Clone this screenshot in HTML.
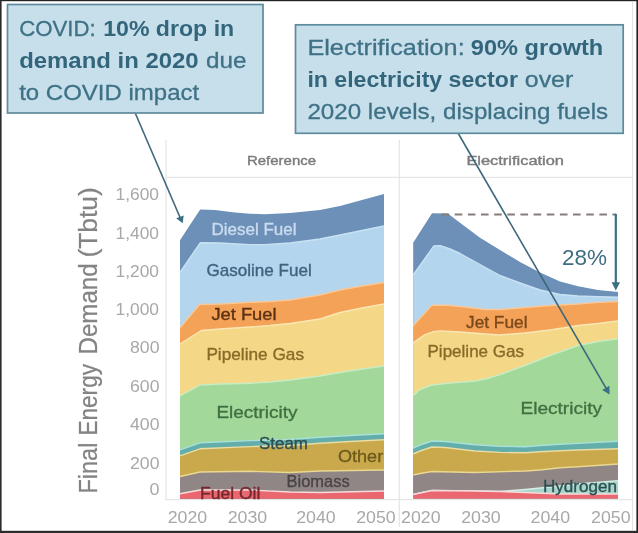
<!DOCTYPE html>
<html lang="en">
<head>
<meta charset="utf-8">
<title>Final Energy Demand</title>
<style>
  html, body { margin:0; padding:0; background:#ffffff; }
  body { width:638px; height:533px; overflow:hidden; }
  svg { display:block; filter: blur(0.4px); }
  .lbl { font-family:"Liberation Sans", sans-serif; }
  .tick { font-family:"Liberation Sans", sans-serif; font-size:16px; fill:#a8a8a8; }
  .hdr { font-family:"Liberation Sans", sans-serif; font-size:13px; fill:#7c7c7c; stroke:#7c7c7c; stroke-width:0.4px; font-weight:normal; }
  .note { font-family:"Liberation Sans", sans-serif; font-size:22.5px; fill:#3f7186; stroke:#3f7186; stroke-width:0.3px; }
  .note .b { font-weight:bold; fill:#33667c; stroke:none; }
  .area { font-family:"Liberation Sans", sans-serif; font-size:17px; }
</style>
</head>
<body>
<svg width="638" height="533" viewBox="0 0 638 533">
  <!-- page background + dark frame -->
  <rect x="0" y="0" width="638" height="533" fill="#ffffff"/>
  <rect x="0" y="0" width="638" height="1.2" fill="#222"/>
  <rect x="0" y="0" width="1.6" height="533" fill="#2b2b2b"/>
  <rect x="636.4" y="0" width="1.6" height="533" fill="#222"/>
  <rect x="0" y="530.8" width="638" height="2.2" fill="#2b2b2b"/>
  <rect x="632" y="2" width="1" height="528" fill="#e4e4e4"/>

  <!-- panel frame lines -->
  <g stroke="#e6e6e6" stroke-width="1.3" fill="none">
    <line x1="166" y1="140" x2="166" y2="500"/>
    <line x1="399.3" y1="140" x2="399.3" y2="527"/>
    <line x1="165.5" y1="177.3" x2="632" y2="177.3"/>
    <line x1="165.5" y1="499.6" x2="632" y2="499.6"/>
  </g>

  <!-- panel headers -->
  <text class="hdr" x="247" y="164.5" textLength="69" lengthAdjust="spacingAndGlyphs">Reference</text>
  <text class="hdr" x="466.4" y="164.5" textLength="97.6" lengthAdjust="spacingAndGlyphs">Electrification</text>

  <!-- y axis title -->
  <g class="lbl" font-size="25" fill="#848484" stroke="#848484" stroke-width="0.25">
    <text transform="translate(96.6,493.6) rotate(-90)" textLength="51" lengthAdjust="spacingAndGlyphs">Final</text>
    <text transform="translate(96.6,435.6) rotate(-90)" textLength="71.6" lengthAdjust="spacingAndGlyphs">Energy</text>
    <text transform="translate(96.6,354.4) rotate(-90)" textLength="91" lengthAdjust="spacingAndGlyphs">Demand</text>
    <text transform="translate(96.6,257.6) rotate(-90)" textLength="70.4" lengthAdjust="spacingAndGlyphs">(Tbtu)</text>
  </g>

  <!-- y tick labels -->
  <g class="tick" lengthAdjust="spacingAndGlyphs">
    <text x="115.5" y="199.7" textLength="43.5" lengthAdjust="spacingAndGlyphs">1,600</text>
    <text x="115.5" y="238.7" textLength="43.5" lengthAdjust="spacingAndGlyphs">1,400</text>
    <text x="115.5" y="277.2" textLength="43.5" lengthAdjust="spacingAndGlyphs">1,200</text>
    <text x="115.5" y="315.3" textLength="43.5" lengthAdjust="spacingAndGlyphs">1,000</text>
    <text x="130" y="353" textLength="29.5" lengthAdjust="spacingAndGlyphs">800</text>
    <text x="130" y="391.5" textLength="29.5" lengthAdjust="spacingAndGlyphs">600</text>
    <text x="130" y="430.3" textLength="29.5" lengthAdjust="spacingAndGlyphs">400</text>
    <text x="130" y="469.2" textLength="29.5" lengthAdjust="spacingAndGlyphs">200</text>
    <text x="149.5" y="494.5" textLength="10" lengthAdjust="spacingAndGlyphs">0</text>
  </g>

  <!-- x tick labels -->
  <g class="tick">
    <text x="167.7" y="522.8" textLength="39.5" lengthAdjust="spacingAndGlyphs">2020</text>
    <text x="227.7" y="522.8" textLength="39.5" lengthAdjust="spacingAndGlyphs">2030</text>
    <text x="296.2" y="522.8" textLength="39.5" lengthAdjust="spacingAndGlyphs">2040</text>
    <text x="356.2" y="522.8" textLength="39.5" lengthAdjust="spacingAndGlyphs">2050</text>
    <text x="401" y="522.8" textLength="39.5" lengthAdjust="spacingAndGlyphs">2020</text>
    <text x="461.2" y="522.8" textLength="39.5" lengthAdjust="spacingAndGlyphs">2030</text>
    <text x="530.6" y="522.8" textLength="39.5" lengthAdjust="spacingAndGlyphs">2040</text>
    <text x="591" y="522.8" textLength="39.5" lengthAdjust="spacingAndGlyphs">2050</text>
  </g>

  <!-- LEFT stacked areas -->
  <g>
<polygon points="180.0,240.3 186.5,230.2 200.2,209.4 215.0,210.0 235.0,212.5 250.0,213.8 265.0,214.2 290.0,213.0 305.0,211.5 320.0,210.0 340.0,206.0 362.0,200.0 384.0,194.0 384.0,498.8 180.0,498.8" fill="#6c90b8"/>
<polygon points="180.0,272.5 200.2,242.8 220.0,243.0 250.0,244.6 265.0,244.6 290.0,243.0 320.0,239.0 340.0,235.0 362.0,230.5 384.0,226.0 384.0,498.8 180.0,498.8" fill="#b3d5ee"/>
<polyline points="180.0,272.5 200.2,242.8 220.0,243.0 250.0,244.6 265.0,244.6 290.0,243.0 320.0,239.0 340.0,235.0 362.0,230.5 384.0,226.0" fill="none" stroke="#c9e2f3" stroke-width="1.4" stroke-linejoin="round"/>
<polygon points="180.0,327.7 199.6,304.5 220.0,304.0 250.0,302.3 270.0,301.5 290.0,300.0 320.0,295.0 340.0,290.0 362.0,286.0 384.0,282.5 384.0,498.8 180.0,498.8" fill="#f4a257"/>
<polyline points="180.0,327.7 199.6,304.5 220.0,304.0 250.0,302.3 270.0,301.5 290.0,300.0 320.0,295.0 340.0,290.0 362.0,286.0 384.0,282.5" fill="none" stroke="#f9c898" stroke-width="1.4" stroke-linejoin="round"/>
<polygon points="180.0,344.0 201.4,330.5 220.0,329.0 250.0,327.0 270.0,325.5 290.0,323.5 320.0,319.0 340.0,312.5 362.0,308.0 384.0,304.0 384.0,498.8 180.0,498.8" fill="#f4d888"/>
<polyline points="180.0,344.0 201.4,330.5 220.0,329.0 250.0,327.0 270.0,325.5 290.0,323.5 320.0,319.0 340.0,312.5 362.0,308.0 384.0,304.0" fill="none" stroke="#f9e8b4" stroke-width="1.4" stroke-linejoin="round"/>
<polygon points="180.0,395.8 200.2,385.0 220.0,384.0 250.0,383.2 270.0,382.0 290.0,380.0 320.0,376.0 340.0,372.5 362.0,369.0 384.0,366.0 384.0,498.8 180.0,498.8" fill="#a2d99b"/>
<polyline points="180.0,395.8 200.2,385.0 220.0,384.0 250.0,383.2 270.0,382.0 290.0,380.0 320.0,376.0 340.0,372.5 362.0,369.0 384.0,366.0" fill="none" stroke="#c9ecc2" stroke-width="1.4" stroke-linejoin="round"/>
<polygon points="180.0,449.8 200.0,442.8 250.0,440.6 290.0,439.5 320.0,437.2 350.0,435.5 384.0,433.8 384.0,498.8 180.0,498.8" fill="#63aeab"/>
<polyline points="180.0,449.8 200.0,442.8 250.0,440.6 290.0,439.5 320.0,437.2 350.0,435.5 384.0,433.8" fill="none" stroke="#a9e0d9" stroke-width="1.4" stroke-linejoin="round"/>
<polygon points="180.0,455.8 200.0,448.8 250.0,446.6 290.0,445.5 320.0,443.2 350.0,441.5 384.0,439.8 384.0,498.8 180.0,498.8" fill="#c9a94c"/>
<polyline points="180.0,455.8 200.0,448.8 250.0,446.6 290.0,445.5 320.0,443.2 350.0,441.5 384.0,439.8" fill="none" stroke="#e9dca4" stroke-width="1.4" stroke-linejoin="round"/>
<polygon points="180.0,476.5 200.0,472.0 250.0,471.3 290.0,472.5 320.0,471.0 384.0,470.0 384.0,498.8 180.0,498.8" fill="#918686"/>
<polyline points="180.0,476.5 200.0,472.0 250.0,471.3 290.0,472.5 320.0,471.0 384.0,470.0" fill="none" stroke="#ead891" stroke-width="1.4" stroke-linejoin="round"/>
<polygon points="180.0,493.8 200.0,490.0 250.0,490.0 290.0,492.0 320.0,492.5 384.0,491.0 384.0,498.8 180.0,498.8" fill="#ea6770"/>
<polyline points="180.0,493.8 200.0,490.0 250.0,490.0 290.0,492.0 320.0,492.5 384.0,491.0" fill="none" stroke="#f5dcdb" stroke-width="1.4" stroke-linejoin="round"/>
  </g>
  <!-- RIGHT stacked areas -->
  <g>
<polygon points="413.2,242.8 432.0,213.2 447.8,213.5 460.0,222.7 480.0,237.7 500.0,250.0 520.0,262.0 540.0,272.5 560.0,281.5 578.0,286.3 598.0,290.0 618.0,292.0 618.0,498.8 413.2,498.8" fill="#6c90b8"/>
<polygon points="413.2,275.0 433.9,245.9 441.0,245.8 450.0,249.0 460.0,253.5 480.0,264.5 500.0,275.5 520.0,283.0 540.0,290.0 560.0,294.5 578.0,296.0 598.0,296.6 618.0,297.3 618.0,498.8 413.2,498.8" fill="#b3d5ee"/>
<polyline points="413.2,275.0 433.9,245.9 441.0,245.8 450.0,249.0 460.0,253.5 480.0,264.5 500.0,275.5 520.0,283.0 540.0,290.0 560.0,294.5 578.0,296.0 598.0,296.6 618.0,297.3" fill="none" stroke="#c9e2f3" stroke-width="1.4" stroke-linejoin="round"/>
<polygon points="413.2,325.8 432.0,305.1 447.8,305.3 465.0,307.0 485.0,309.5 500.0,309.5 525.0,307.5 550.0,305.5 578.0,304.0 598.0,302.4 618.0,301.5 618.0,498.8 413.2,498.8" fill="#f4a257"/>
<polyline points="413.2,325.8 432.0,305.1 447.8,305.3 465.0,307.0 485.0,309.5 500.0,309.5 525.0,307.5 550.0,305.5 578.0,304.0 598.0,302.4 618.0,301.5" fill="none" stroke="#f9c898" stroke-width="1.4" stroke-linejoin="round"/>
<polygon points="413.2,342.8 425.0,334.7 433.0,331.8 440.0,330.9 460.0,332.0 485.0,334.0 500.0,335.0 525.0,333.0 550.0,330.0 578.0,325.5 598.0,323.5 618.0,321.0 618.0,498.8 413.2,498.8" fill="#f4d888"/>
<polyline points="413.2,342.8 425.0,334.7 433.0,331.8 440.0,330.9 460.0,332.0 485.0,334.0 500.0,335.0 525.0,333.0 550.0,330.0 578.0,325.5 598.0,323.5 618.0,321.0" fill="none" stroke="#f9e8b4" stroke-width="1.4" stroke-linejoin="round"/>
<polygon points="413.2,395.5 420.0,389.5 432.0,385.0 450.0,383.0 475.0,381.0 487.0,378.5 500.0,374.5 525.0,365.5 550.0,355.5 578.0,345.5 598.0,341.5 618.0,338.8 618.0,498.8 413.2,498.8" fill="#a2d99b"/>
<polyline points="413.2,395.5 420.0,389.5 432.0,385.0 450.0,383.0 475.0,381.0 487.0,378.5 500.0,374.5 525.0,365.5 550.0,355.5 578.0,345.5 598.0,341.5 618.0,338.8" fill="none" stroke="#c9ecc2" stroke-width="1.4" stroke-linejoin="round"/>
<polygon points="413.2,448.0 420.0,445.0 432.0,441.0 445.0,441.5 475.0,444.8 500.0,446.3 525.0,446.8 540.0,445.5 560.0,444.3 578.0,443.4 618.0,441.2 618.0,498.8 413.2,498.8" fill="#63aeab"/>
<polyline points="413.2,448.0 420.0,445.0 432.0,441.0 445.0,441.5 475.0,444.8 500.0,446.3 525.0,446.8 540.0,445.5 560.0,444.3 578.0,443.4 618.0,441.2" fill="none" stroke="#a9e0d9" stroke-width="1.4" stroke-linejoin="round"/>
<polygon points="413.2,454.0 420.0,451.0 432.0,447.0 445.0,447.5 475.0,451.0 500.0,452.4 525.0,452.8 540.0,451.7 560.0,450.7 578.0,450.0 618.0,448.7 618.0,498.8 413.2,498.8" fill="#c9a94c"/>
<polyline points="413.2,454.0 420.0,451.0 432.0,447.0 445.0,447.5 475.0,451.0 500.0,452.4 525.0,452.8 540.0,451.7 560.0,450.7 578.0,450.0 618.0,448.7" fill="none" stroke="#e9dca4" stroke-width="1.4" stroke-linejoin="round"/>
<polygon points="413.2,475.0 420.0,473.5 432.0,471.5 475.0,472.5 525.0,471.0 540.0,470.0 560.0,467.8 578.0,466.8 618.0,464.0 618.0,498.8 413.2,498.8" fill="#918686"/>
<polyline points="413.2,475.0 420.0,473.5 432.0,471.5 475.0,472.5 525.0,471.0 540.0,470.0 560.0,467.8 578.0,466.8 618.0,464.0" fill="none" stroke="#ead891" stroke-width="1.4" stroke-linejoin="round"/>
<polygon points="413.2,494.5 420.0,493.0 432.0,490.5 475.0,491.0 500.0,491.5 525.0,489.5 540.0,488.0 560.0,486.0 578.0,484.0 618.0,480.6 618.0,498.8 413.2,498.8" fill="#a9d6cb"/>
<polyline points="413.2,494.5 420.0,493.0 432.0,490.5 475.0,491.0 500.0,491.5 525.0,489.5 540.0,488.0 560.0,486.0 578.0,484.0 618.0,480.6" fill="none" stroke="#d6ece6" stroke-width="1.4" stroke-linejoin="round"/>
<polygon points="413.2,494.5 420.0,493.0 432.0,490.5 475.0,491.0 500.0,491.5 525.0,492.5 560.0,494.0 618.0,494.0 618.0,498.8 413.2,498.8" fill="#ea6770"/>
<polyline points="413.2,494.5 420.0,493.0 432.0,490.5 475.0,491.0 500.0,491.5 525.0,492.5 560.0,494.0 618.0,494.0" fill="none" stroke="#f5dcdb" stroke-width="1.4" stroke-linejoin="round"/>
  </g>

  <!-- area labels : left -->
  <g class="area">
    <text x="211.4" y="235.2" textLength="85.2" lengthAdjust="spacingAndGlyphs" fill="#ccdcef" stroke="#ccdcef" stroke-width="0.35">Diesel Fuel</text>
    <text x="206.4" y="276" textLength="105.3" lengthAdjust="spacingAndGlyphs" fill="#42617e" stroke="#42617e" stroke-width="0.35">Gasoline Fuel</text>
    <text x="211.4" y="320" textLength="65.2" lengthAdjust="spacingAndGlyphs" fill="#5a3114" stroke="#5a3114" stroke-width="0.35">Jet Fuel</text>
    <text x="206.4" y="360.2" textLength="97.6" lengthAdjust="spacingAndGlyphs" fill="#8a6a28" stroke="#8a6a28" stroke-width="0.35">Pipeline Gas</text>
    <text x="216.4" y="417.5" textLength="81" lengthAdjust="spacingAndGlyphs" fill="#3f7040" stroke="#3f7040" stroke-width="0.35">Electricity</text>
    <text x="259" y="449" textLength="49" lengthAdjust="spacingAndGlyphs" fill="#2f4f50" stroke="#2f4f50" stroke-width="0.35">Steam</text>
    <text x="338" y="462" textLength="45.2" lengthAdjust="spacingAndGlyphs" fill="#6d5a1c" stroke="#6d5a1c" stroke-width="0.35">Other</text>
    <text x="286.6" y="486.5" textLength="63" lengthAdjust="spacingAndGlyphs" fill="#4a4444" stroke="#4a4444" stroke-width="0.35">Biomass</text>
    <text x="200" y="499" textLength="60.3" lengthAdjust="spacingAndGlyphs" fill="#74282f" stroke="#74282f" stroke-width="0.35">Fuel Oil</text>
  </g>
  <!-- area labels : right -->
  <g class="area">
    <text x="466" y="328" textLength="61.5" lengthAdjust="spacingAndGlyphs" fill="#7a4a1a" stroke="#7a4a1a" stroke-width="0.35">Jet Fuel</text>
    <text x="427.5" y="357.2" textLength="96.5" lengthAdjust="spacingAndGlyphs" fill="#8a6a28" stroke="#8a6a28" stroke-width="0.35">Pipeline Gas</text>
    <text x="520.5" y="414" textLength="81.5" lengthAdjust="spacingAndGlyphs" fill="#3f7040" stroke="#3f7040" stroke-width="0.35">Electricity</text>
    <text x="543" y="492" textLength="74" lengthAdjust="spacingAndGlyphs" fill="#2c5152" stroke="#2c5152" stroke-width="0.35">Hydrogen</text>
  </g>

  <!-- dashed reference line + 28% arrow -->
  <line x1="441.55" y1="214.5" x2="616.2" y2="214.5" stroke="#857d7a" stroke-width="2.2" stroke-dasharray="7.6 5.55"/>
  <line x1="615.8" y1="214" x2="615.8" y2="283.5" stroke="#3b6f84" stroke-width="2.2"/>
  <polygon points="611.6,282.3 620,282.3 615.8,290.6" fill="#3b6f84"/>
  <text class="lbl" x="584.5" y="265" text-anchor="middle" font-size="22.5" fill="#3f6e80">28%</text>

  <!-- callout arrows -->
  <g stroke="#3c687a" stroke-width="1.6" fill="none">
    <line x1="135.4" y1="113.5" x2="180.3" y2="218"/>
    <line x1="458.3" y1="133.5" x2="606" y2="388.2"/>
  </g>
  <polygon points="182.6,223.3 176.2,218.2 183.7,215.6" fill="#3b6f84"/>
  <polygon points="609.6,394.4 602.2,390 609.4,385.8" fill="#3b6f84"/>

  <!-- callout boxes -->
  <rect x="7.5" y="4.5" width="255.5" height="108.5" fill="#c6dfea" stroke="#5d8a9c" stroke-width="1.7"/>
  <g class="note">
    <text x="19.2" y="36" textLength="76.6" lengthAdjust="spacingAndGlyphs">COVID:</text>
    <text class="b" x="103.2" y="36" textLength="131" lengthAdjust="spacingAndGlyphs">10% drop in</text>
    <text class="b" x="19.2" y="68" textLength="179.5" lengthAdjust="spacingAndGlyphs">demand in 2020</text>
    <text x="206" y="68" textLength="40.5" lengthAdjust="spacingAndGlyphs">due</text>
    <text x="19.2" y="100" textLength="180" lengthAdjust="spacingAndGlyphs">to COVID impact</text>
  </g>

  <rect x="295.5" y="24.8" width="327.7" height="108.5" fill="#c6dfea" stroke="#5d8a9c" stroke-width="1.7"/>
  <g class="note">
    <text x="307.4" y="55.4" textLength="157.3" lengthAdjust="spacingAndGlyphs">Electrification:</text>
    <text class="b" x="470.8" y="55.4" textLength="132.5" lengthAdjust="spacingAndGlyphs">90% growth</text>
    <text class="b" x="307.4" y="87" textLength="210.5" lengthAdjust="spacingAndGlyphs">in electricity sector</text>
    <text x="524.8" y="87" textLength="48.5" lengthAdjust="spacingAndGlyphs">over</text>
    <text x="307.4" y="119" textLength="300.8" lengthAdjust="spacingAndGlyphs">2020 levels, displacing fuels</text>
  </g>
</svg>
</body>
</html>
